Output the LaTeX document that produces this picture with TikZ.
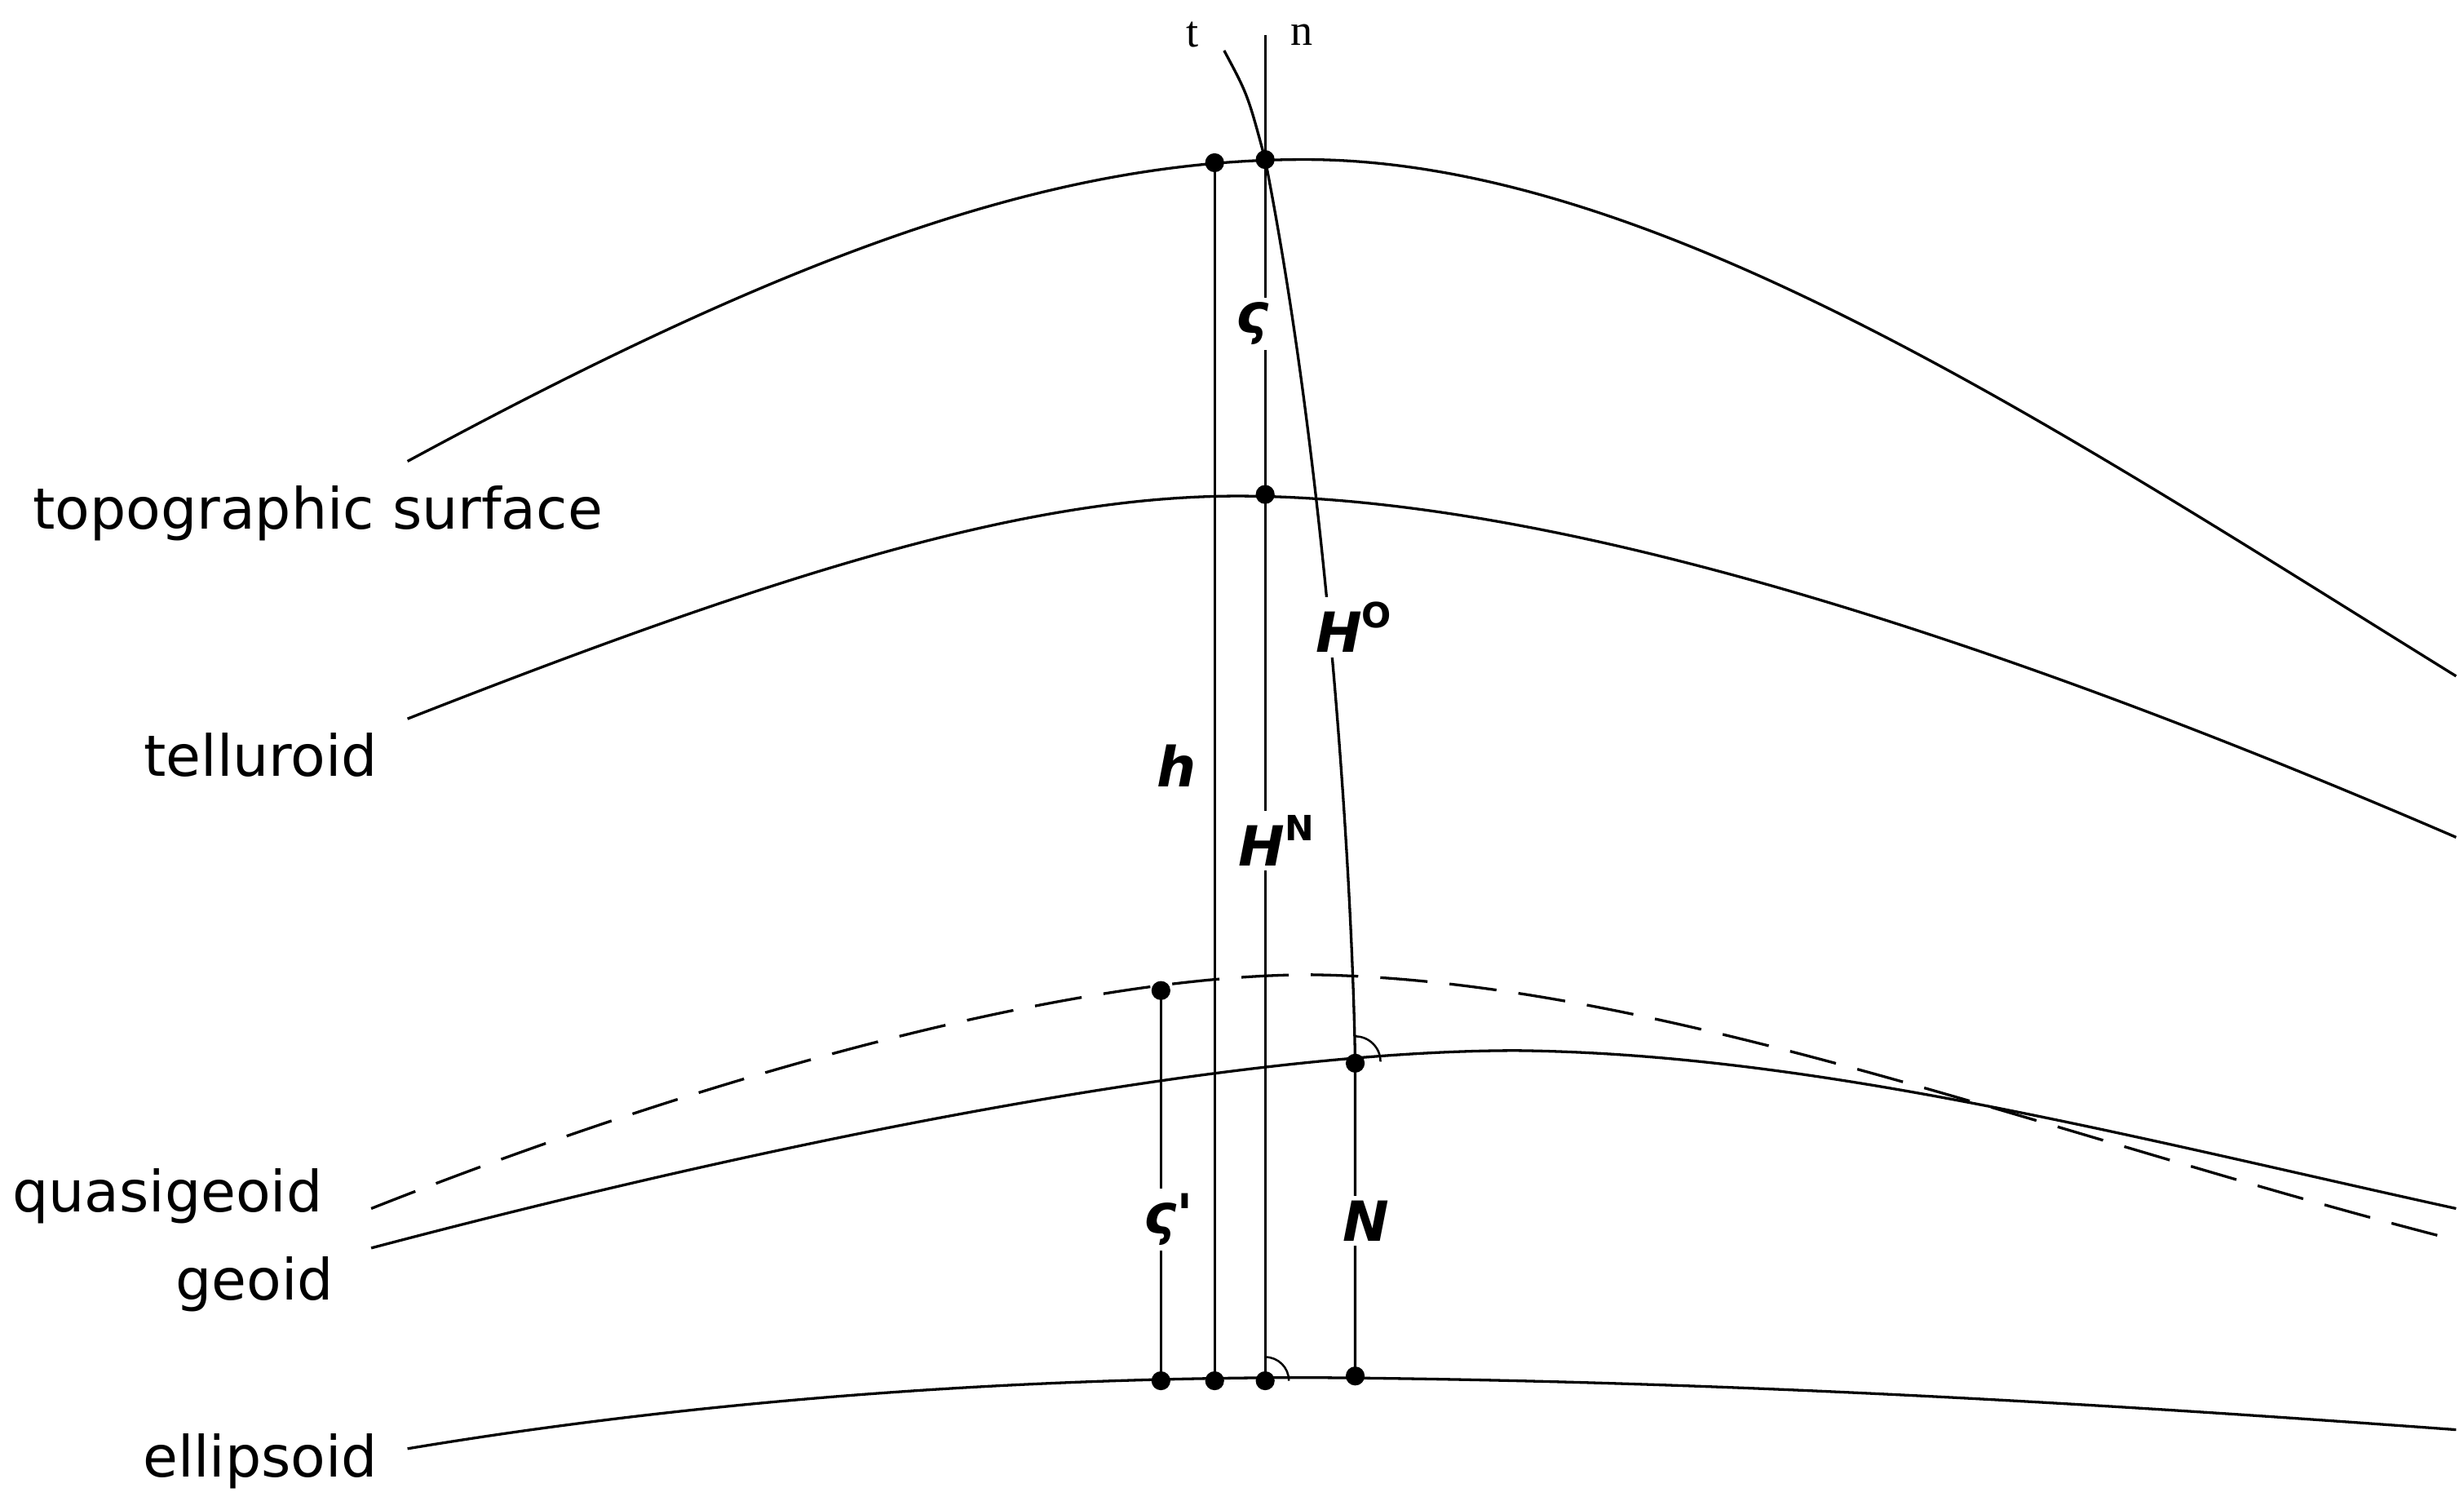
\documentclass[tikz,border=0pt]{standalone}
\usepackage{fontspec}
\setmainfont{DejaVu Sans}
\newfontfamily\lblfont{DejaVu Sans}
\newfontfamily\serfont{Liberation Serif}
\begin{document}
\begin{tikzpicture}[x=1pt,y=-1pt,line width=1.7pt,
  dot/.style={circle,fill=black,inner sep=0pt,minimum size=12pt},
  side/.style={font=\fontsize{36}{38}\selectfont,inner sep=0pt},
  qty/.style={font=\lblfont\bfseries\itshape\fontsize{35}{36}\selectfont,fill=white,inner sep=3pt},
  tn/.style={font=\serfont\fontsize{28}{30}\selectfont,inner sep=0pt}]
\useasboundingbox (0,0) rectangle (1560,955.6);
% surfaces
\draw (258,292) .. controls (520,150) and (680,100) .. (830,101) .. controls (1050,103) and (1300,270) .. (1555,428);
\draw (258,455) .. controls (500,360) and (650,315) .. (780,314) .. controls (1000,313) and (1300,420) .. (1555,530);
\draw[dash pattern=on 30pt off 14pt] (235,765) .. controls (450,680) and (680,617) .. (830,617) .. controls (1050,620) and (1300,720) .. (1555,785);
\draw (235,790) .. controls (500,720) and (780,665) .. (960,665) .. controls (1150,667) and (1350,720) .. (1555,765);
\draw (258,917) .. controls (450,885) and (650,872) .. (830,872) .. controls (1100,874) and (1350,890) .. (1555,905);
% points
\node[dot] (A) at (769,103) {};
\node[dot] (B) at (801,101) {};
\node[dot] (C) at (801,313) {};
\node[dot] (Q) at (735,627) {};
\node[dot] (G) at (858,673) {};
\node[dot] (E1) at (735,874) {};
\node[dot] (E2) at (769,874) {};
\node[dot] (E3) at (801,874) {};
\node[dot] (E4) at (858,871) {};
\coordinate (ntop) at (801,22);
\coordinate (ttop) at (775,32);
% verticals
\draw (Q.center) -- (E1.center);
\draw (A.center) -- (E2.center);
\draw (ntop) -- (E3.center);
\draw (ttop) .. controls (790,60) .. (B.center) .. controls (840,300) and (856,550) .. (G.center) -- (E4.center);
% right-angle marks
\draw[line width=1.3pt] (801,859) arc[start angle=-90,end angle=0,radius=15];
\draw[line width=1.3pt] (858,656) arc[start angle=-90,end angle=0,radius=16];
% quantity labels
\node[qty] at (793,205) {ς};
\node[qty] at (857,397) {H\raisebox{0.45em}{\upshape\fontsize{22}{24}\selectfont O}};
\node[qty,fill=none] at (745,485) {h};
\node[qty] at (808,532) {H\raisebox{0.45em}{\upshape\fontsize{22}{24}\selectfont N}};
\node[qty] at (740,772) {ς'};
\node[qty] at (865,773) {N};
% t, n
\node[tn] at (755,22) {t};
\node[tn] at (824,22) {n};
% side labels
\node[side,anchor=west] at (20,325) {topographic surface};
\node[side,anchor=east] at (240,478) {telluroid};
\node[side,anchor=west] at (7,757) {quasigeoid};
\node[side,anchor=east] at (212,813) {geoid};
\node[side,anchor=east] at (240,925) {ellipsoid};
\end{tikzpicture}
\end{document}
